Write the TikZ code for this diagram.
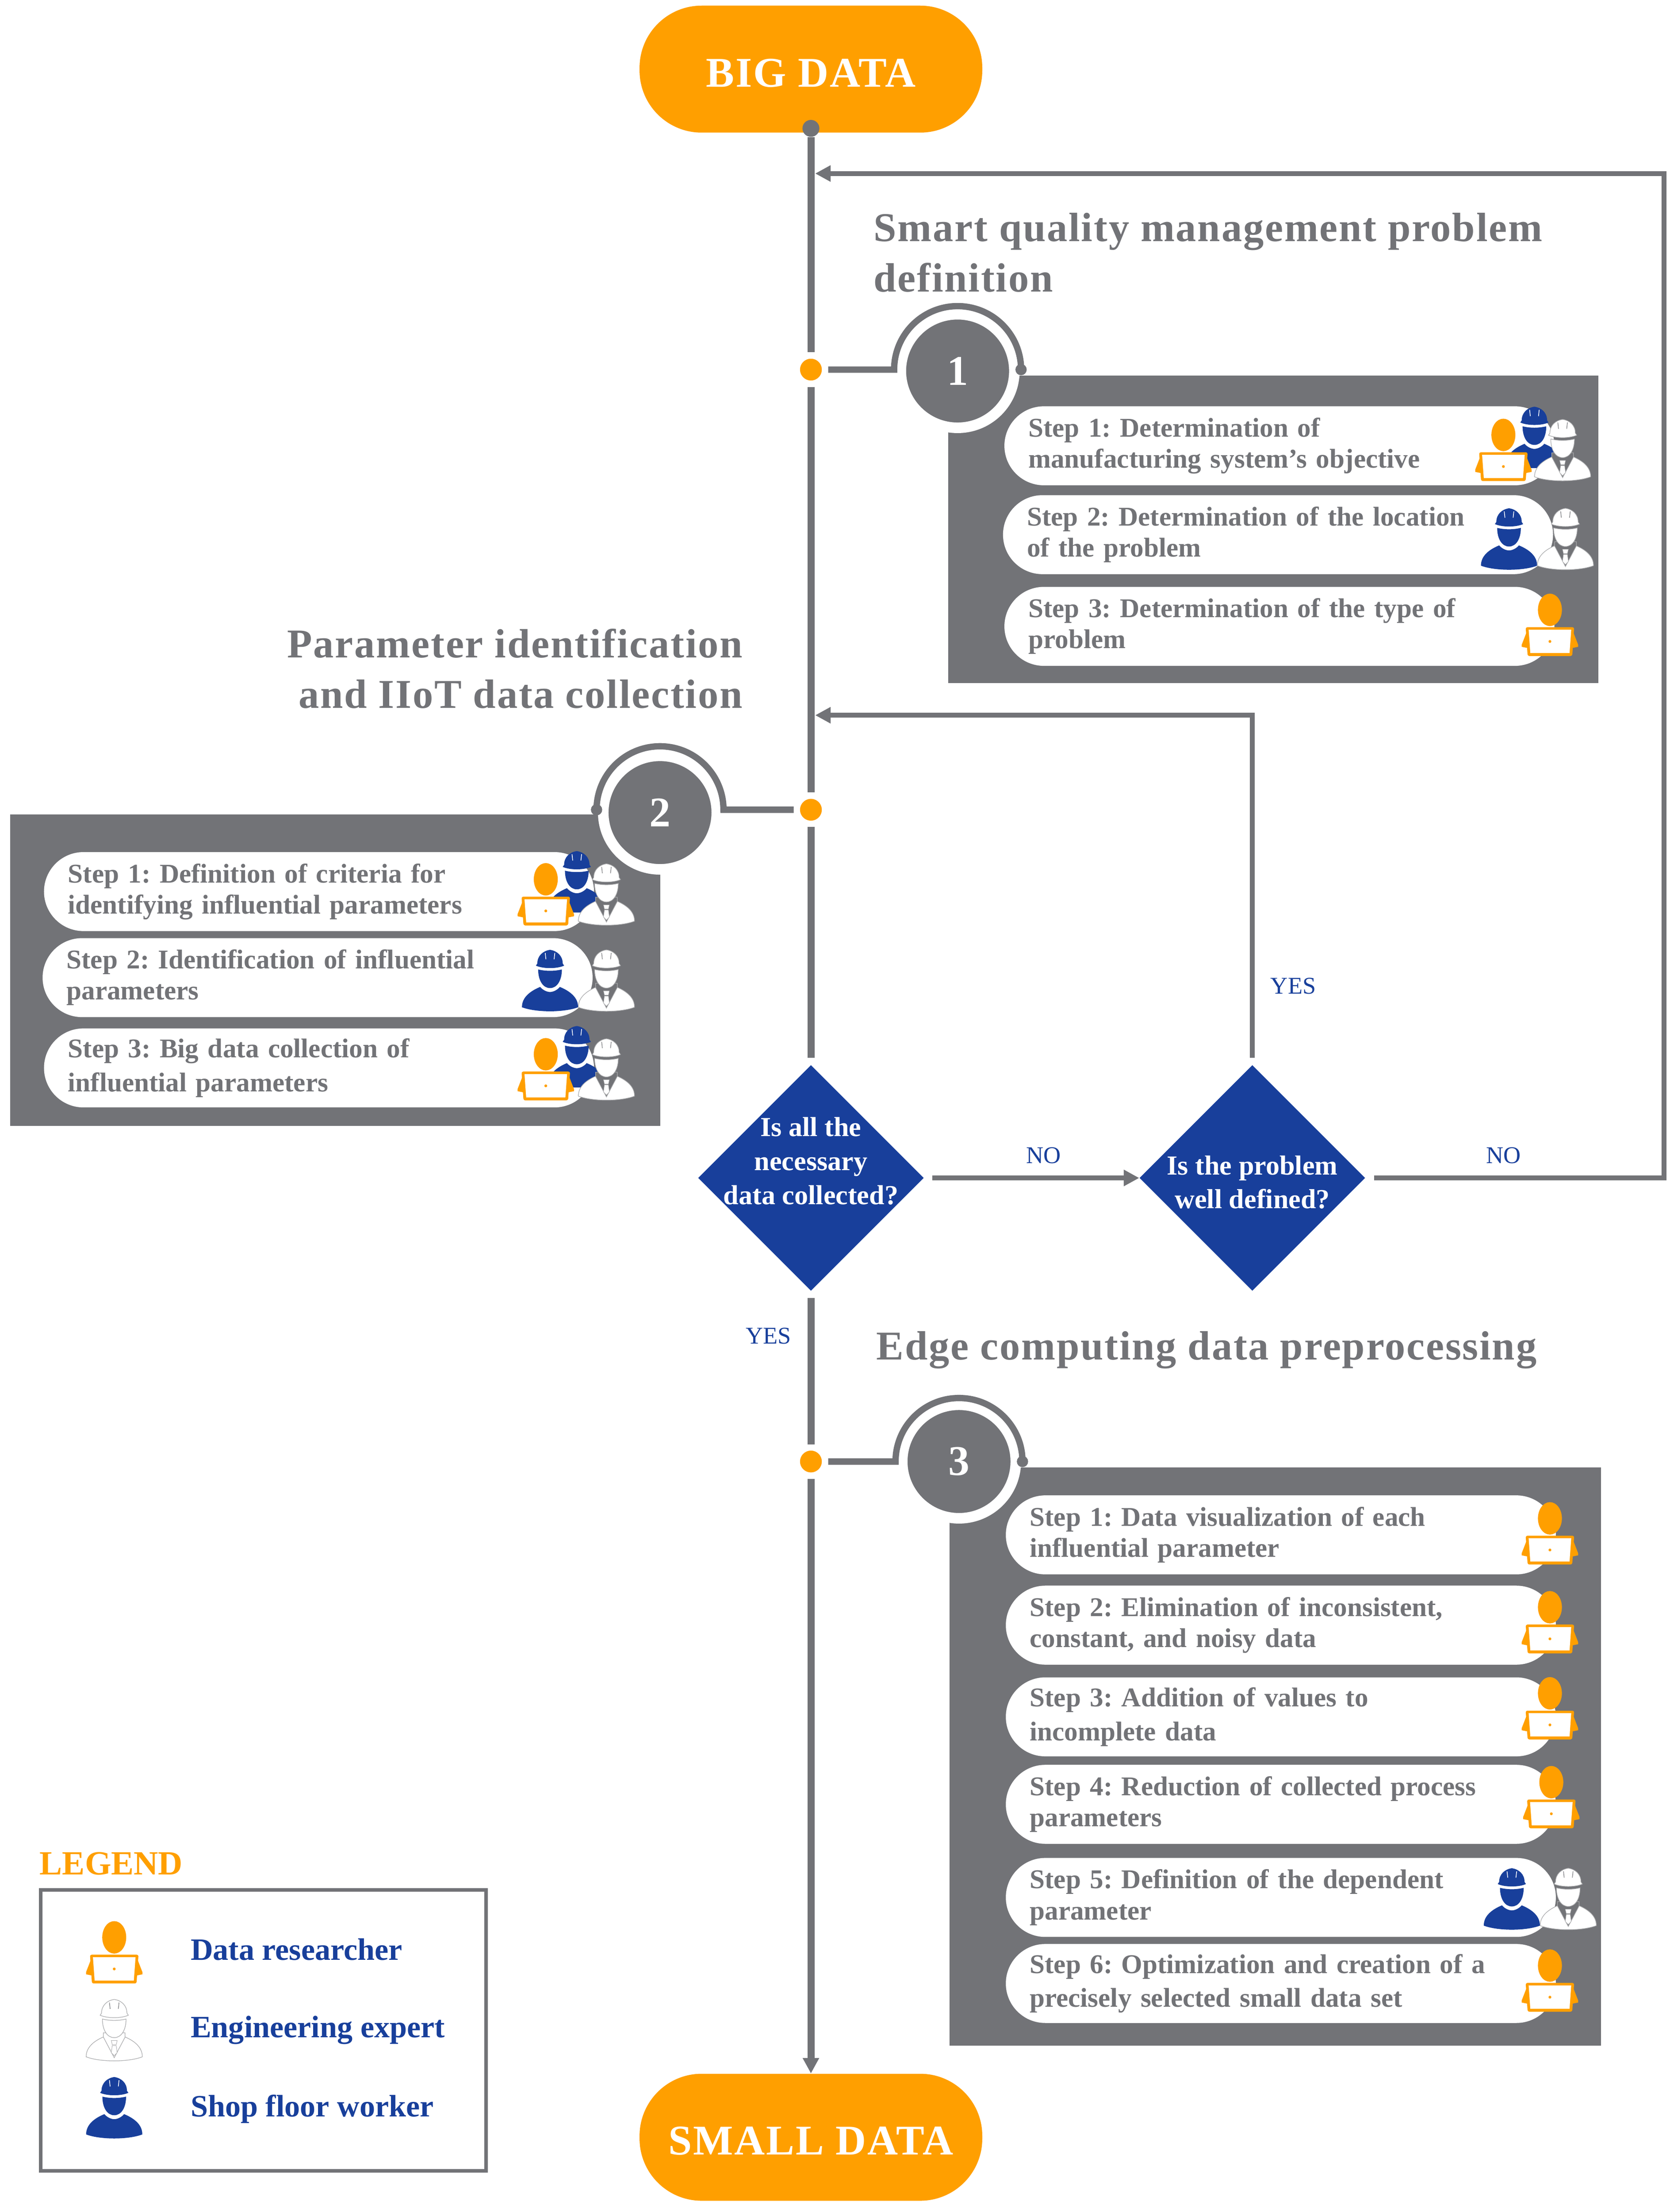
\documentclass[tikz,border=0pt]{standalone}
\usepackage{fontspec}
\setmainfont{Liberation Serif}
\newfontfamily\spacedfont[LetterSpace=3]{Liberation Serif}
\usetikzlibrary{arrows.meta,shapes.geometric}
\definecolor{panelgray}{HTML}{727377}
\definecolor{orangeA}{HTML}{FF9F00}
\definecolor{blueA}{HTML}{183F9B}
\newcommand{\hatshape}{(-10,32.5) -- (-9,34) .. controls (-9,39.5) and (-5,43) .. (0,43.7) .. controls (5,43) and (9,39.5) .. (9,34) -- (10,32.5) .. controls (5,30.2) and (-5,30.2) .. (-10,32.5) -- cycle}
\newcommand{\faceshape}{(-8.4,29.8) .. controls (-3,28.5) and (3,28.5) .. (8.4,29.8) .. controls (8.4,22) and (5,16.6) .. (0,16.6) .. controls (-5,16.6) and (-8.4,22) .. (-8.4,29.8) -- cycle}
\newcommand{\bodyshape}{(-19.9,3) .. controls (-20,10) and (-14,14.5) .. (-7,17.4) .. controls (-5,15) and (-2,13.8) .. (0,13.8) .. controls (2,13.8) and (5,15) .. (7,17.4) .. controls (14,14.5) and (20,10) .. (19.9,3) .. controls (10,-0.8) and (-10,-0.8) .. (-19.9,3) -- cycle}
\tikzset{
pics/worker/.style={code={
\fill[blueA] \bodyshape;
\fill[blueA] \faceshape;
\fill[blueA] \hatshape;
\draw[white, line width=.5pt] (-3.4,41.5) -- (-2.9,37) (3.4,41.5) -- (2.9,37);
}},
pics/expert/.default=panelgray,
pics/expert/.style={code={
\filldraw[fill=white, draw=panelgray!60, line width=.4pt] \bodyshape;
\filldraw[fill=#1, draw=panelgray!60, line width=.4pt] (-7.7,20) -- (-7.7,17) -- (0,2.4) -- (7.7,17) -- (7.7,20) -- cycle;
\filldraw[fill=white, draw=panelgray!60, line width=.3pt] (-2.1,14.6) -- (2.1,14.6) -- (1.4,11.6) -- (-1.4,11.6) -- cycle (-1.4,11) -- (1.4,11) -- (2.1,6) -- (0,3.8) -- (-2.1,6) -- cycle;
\filldraw[fill=white, draw=panelgray!60, line width=.4pt] \faceshape;
\filldraw[fill=white, draw=panelgray!60, line width=.4pt] \hatshape;
\draw[panelgray!80, line width=.5pt] (-3.4,41.5) -- (-2.9,37) (3.4,41.5) -- (2.9,37);
}},
pics/researcher/.style={code={
\fill[orangeA] (-16.5,17) -- (-20,8) -- (-20,6.5) -- (-15,5.5) -- cycle (16.5,17) -- (20,8) -- (20,6.5) -- (15,5.5) -- cycle;
\fill[orangeA] (0,32.7) ellipse (8.5 and 11.5);
\fill[orangeA, rounded corners=1.2pt] (-17.2,20.4) -- (17.2,20.4) -- (15.8,0) -- (-15.8,0) -- cycle;
\fill[white] (-15.1,18.6) -- (15.1,18.6) -- (13.9,2.1) -- (-13.9,2.1) -- cycle;
\fill[orangeA] (0,10.3) circle (1);
}},
panelbox/.style={rectangle, fill=panelgray, anchor=north west, inner sep=0pt},
stepbox/.style={rectangle, fill=white, rounded corners=28pt, anchor=west, minimum height=56pt, text width=356pt, inner xsep=17pt, inner ysep=0pt, align=left, text=panelgray, font=\fontsize{19.2}{22}\selectfont\bfseries},
pillbox/.style={rectangle, fill=orangeA, rounded corners=44pt, minimum width=243pt, minimum height=90pt, text height=25pt, text depth=0pt, text=white, font=\fontsize{30}{32}\selectfont\bfseries\spacedfont},
badge/.style={circle, fill=panelgray, draw=white, line width=7.5pt, minimum size=80.5pt, inner sep=0pt, text=white, font=\fontsize{30}{32}\selectfont\bfseries},
dotbox/.style={circle, fill=orangeA, draw=white, line width=4.5pt, minimum size=20pt, inner sep=0pt},
enddot/.style={circle, fill=panelgray, minimum size=#1, inner sep=0pt},
decision/.style={diamond, fill=blueA, minimum width=160pt, minimum height=160pt, inner sep=0pt},
decisiontext/.style={align=center, text=white, font=\fontsize{19.5}{24}\selectfont\bfseries},
title/.style={text=panelgray, font=\fontsize{29}{36}\selectfont\bfseries\spacedfont},
answer/.style={text=blueA, font=\fontsize{17}{19}\selectfont},
legendtext/.style={anchor=west, text=blueA, font=\fontsize{22}{24}\selectfont\bfseries},
mainline/.style={draw=panelgray, line width=5pt},
sideline/.style={draw=panelgray, line width=3.5pt},
headA/.style={-{Triangle[length=11pt,width=11pt]}}
}
\begin{document}
\frenchspacing
\begin{tikzpicture}[x=1pt,y=1pt]
\useasboundingbox (0,0) rectangle (1184,-1568);
\node[panelbox, minimum width=461pt, minimum height=218pt] (panelA) at (672,-266) {};
\node[panelbox, minimum width=461pt, minimum height=221pt] (panelB) at (7,-577) {};
\node[panelbox, minimum width=462pt, minimum height=410pt] (panelC) at (673,-1040) {};
\node[pillbox] (bigdata) at (575,-49) {BIG DATA};
\node[pillbox] (smalldata) at (575,-1515) {SMALL DATA};
\node[enddot=12pt] (topdot) at (575,-91) {};
\node[dotbox] (dotA) at (575,-262) {};
\node[dotbox] (dotB) at (575,-574) {};
\node[dotbox] (dotC) at (575,-1036) {};
\node[decision] (qA) at (575,-835) {};
\node[decision] (qB) at (888,-835) {};
\node[decisiontext] (qAtext) at (575,-823) {Is all the\\necessary\\data collected?};
\node[decisiontext] (qBtext) at (888,-838) {Is the problem\\well defined?};
\coordinate (cornerA) at (1180,-835);
\coordinate (cornerB) at (1180,-123);
\coordinate (joinA) at (578,-123);
\coordinate (cornerC) at (888,-507);
\coordinate (joinB) at (578,-507);
\draw[mainline] (topdot) -- (dotA);
\draw[mainline] (dotA) -- (dotB);
\draw[mainline, shorten >=5pt] (dotB) -- (qA);
\draw[mainline, shorten <=5pt] (qA) -- (dotC);
\draw[mainline, headA] (dotC) -- (smalldata.north);
\draw[sideline, headA, shorten <=6pt] (qA.east) -- (qB.west);
\draw[sideline, headA, shorten <=6pt] (qB.east) -- (cornerA) -- (cornerB) -- (joinA);
\draw[sideline, headA, shorten <=5pt] (qB.north) -- (cornerC) -- (joinB);
\node[badge] (badgeA) at (679,-263) {1};
\node[badge] (badgeB) at (468,-576) {2};
\node[badge] (badgeC) at (680,-1036) {3};
\coordinate (arcA) at (634,-262);
\coordinate (arcB) at (513,-574);
\coordinate (arcC) at (635,-1036);
\node[enddot=8pt] (endA) at (724,-262) {};
\node[enddot=8pt] (endB) at (423,-574) {};
\node[enddot=8pt] (endC) at (725,-1036) {};
\draw[draw=panelgray, line width=4.5pt] (dotA) -- (arcA) arc[start angle=180, end angle=0, radius=45pt];
\draw[draw=panelgray, line width=4.5pt] (dotB) -- (arcB) arc[start angle=0, end angle=180, radius=45pt];
\draw[draw=panelgray, line width=4.5pt] (dotC) -- (arcC) arc[start angle=180, end angle=0, radius=45pt];
\node[title, anchor=west, align=left] (titleA) at (616,-179) {Smart quality management problem\\definition};
\node[title, anchor=east, align=right] (titleB) at (530,-474) {Parameter identification\\and IIoT data collection};
\node[title, anchor=west] (titleC) at (618,-957) {Edge computing data preprocessing};
\node[answer] (noA) at (740,-819) {NO};
\node[answer] (noB) at (1066,-819) {NO};
\node[answer] (yesA) at (917,-699) {YES};
\node[answer] (yesB) at (545,-947) {YES};
\node[stepbox] (stepAa) at (712,-316) {Step 1: Determination of\\manufacturing system’s objective};
\node[stepbox] (stepAb) at (711,-379) {Step 2: Determination of the location\\of the problem};
\node[stepbox] (stepAc) at (712,-444) {Step 3: Determination of the type of\\problem};
\node[stepbox] (stepBa) at (31,-632) {Step 1: Definition of criteria for\\identifying influential parameters};
\node[stepbox] (stepBb) at (30,-693) {Step 2: Identification of influential\\parameters};
\node[stepbox] (stepBc) at (31,-757) {Step 3: Big data collection of\\[2pt]influential parameters};
\node[stepbox] (stepCa) at (713,-1088) {Step 1: Data visualization of each\\influential parameter};
\node[stepbox] (stepCb) at (713,-1152) {Step 2: Elimination of inconsistent,\\constant, and noisy data};
\node[stepbox] (stepCc) at (713,-1217) {Step 3: Addition of values to\\[2pt]incomplete data};
\node[stepbox] (stepCd) at (713,-1279) {Step 4: Reduction of collected process\\parameters};
\node[stepbox] (stepCe) at (713,-1345) {Step 5: Definition of the dependent\\parameter};
\node[stepbox] (stepCf) at (713,-1406) {Step 6: Optimization and creation of a\\[2pt]precisely selected small data set};
\pic at (1088,-332) {worker};
\pic at (1108,-341) {expert};
\pic at (1066,-341) {researcher};
\pic at (1070,-404) {worker};
\pic at (1110,-404) {expert};
\pic at (1099,-465) {researcher};
\pic at (409,-647) {worker};
\pic at (430,-656) {expert};
\pic at (387,-656) {researcher};
\pic at (390,-717) {worker};
\pic at (430,-717) {expert};
\pic at (409,-771) {worker};
\pic at (430,-780) {expert};
\pic at (387,-780) {researcher};
\pic at (1099,-1109) {researcher};
\pic at (1099,-1172) {researcher};
\pic at (1099,-1233) {researcher};
\pic at (1100,-1296) {researcher};
\pic at (1072,-1368) {worker};
\pic at (1112,-1368) {expert};
\pic at (1099,-1426) {researcher};
\node[anchor=west, text=orangeA, font=\fontsize{24}{26}\selectfont\bfseries, inner sep=0pt] (legendhead) at (28,-1321) {LEGEND};
\node[rectangle, draw=panelgray, line width=2.5pt, anchor=north west, minimum width=316pt, minimum height=199pt] (legendbox) at (27.5,-1338.5) {};
\pic at (81,-1406) {researcher};
\pic at (81,-1461) {expert=white};
\pic at (81,-1516) {worker};
\node[legendtext, inner sep=0pt] (legendA) at (135,-1382) {Data researcher};
\node[legendtext, inner sep=0pt] (legendB) at (135,-1439) {Engineering expert};
\node[legendtext, inner sep=0pt] (legendC) at (135,-1495) {Shop floor worker};
\end{tikzpicture}
\end{document}
